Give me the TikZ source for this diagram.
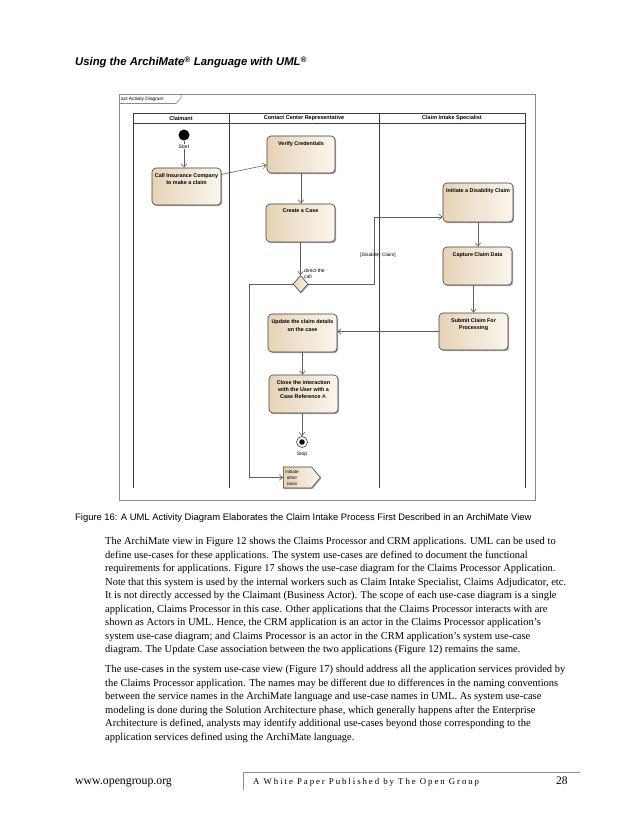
\documentclass[tikz,border=0pt]{standalone}
\usepackage{fontspec}
\setmainfont{Liberation Serif}
\setsansfont{Liberation Sans}
\newfontfamily\diafont{Liberation Sans}
\usetikzlibrary{arrows.meta,shadows,shapes.geometric,shapes.symbols}
\definecolor{boxL}{RGB}{230,211,182}
\definecolor{boxR}{RGB}{251,246,238}
\definecolor{boxline}{RGB}{70,62,55}
\definecolor{lineg}{RGB}{95,95,95}
\definecolor{frameg}{RGB}{140,140,140}
\definecolor{laneg}{RGB}{60,60,60}
\tikzset{
  actbox/.style={draw=boxline, line width=0.6pt, rounded corners=4pt, left color=boxL, right color=boxR,
    minimum width=69pt, minimum height=38pt, inner sep=0pt,
    drop shadow={shadow xshift=1.2pt, shadow yshift=-1.2pt, opacity=0.35, fill=black}},
  acttext/.style={font=\diafont\bfseries\fontsize{5.4}{7.4}\selectfont, align=center, inner sep=0pt, anchor=north},
  smalltext/.style={font=\diafont\fontsize{5.0}{6.2}\selectfont, inner sep=0.4pt},
  lanehead/.style={font=\diafont\bfseries\fontsize{5.5}{6}\selectfont, inner sep=0pt},
  conn/.style={draw=lineg, line width=0.6pt, -{Straight Barb[length=3.5pt,width=5.5pt]}},
  laneline/.style={draw=laneg, line width=0.7pt},
  bodyline/.style={font=\fontsize{10.5}{13}\selectfont, anchor=base west, inner sep=0pt},
}
\begin{document}
\begin{tikzpicture}[x=1pt,y=-1pt]
\useasboundingbox[fill=white] (0,0) rectangle (638,826);

% header
\node[anchor=base west, font=\sffamily\bfseries\itshape\fontsize{11.3}{13}\selectfont, inner sep=0pt] (hdr) at (75,66)
  {Using the ArchiMate\textsuperscript{®} Language with UML\textsuperscript{®}};

% diagram frame
\draw[frameg, line width=0.8pt] (119,94) rectangle (535,500);
\draw[frameg, line width=0.6pt] (119,103.5) -- (176,103.5) -- (181,98) -- (181,94);
\node[anchor=west, font=\diafont\fontsize{4.8}{5}\selectfont, inner sep=0pt] (acttab) at (121,99) {act Activity Diagram};

% swimlanes
\draw[laneline] (133,488) -- (133,113) -- (525,113) -- (525,488);
\draw[laneline] (133,123.5) -- (525,123.5);
\draw[laneline] (229,113) -- (229,488);
\draw[laneline] (379,113) -- (379,488);
\node[lanehead] (lh1) at (181,118.5) {Claimant};
\node[lanehead] (lh2) at (304,118.5) {Contact Center Representative};
\node[lanehead] (lh3) at (452,118.5) {Claim Intake Specialist};

% activity boxes
\node[actbox, minimum height=37pt] (call) at (186.5,186.5) {};
\node[acttext] (callT) at (186.5,173) {Call Insurance Company\\to make a claim};
\node[actbox, minimum width=68pt, minimum height=37pt] (verify) at (301,154.5) {};
\node[acttext] (verifyT) at (301,141) {Verify Credentials};
\node[actbox] (create) at (300.5,223) {};
\node[acttext] (createT) at (300.5,209) {Create a Case};
\node[actbox, minimum width=70pt, minimum height=39pt] (initiate) at (478,202.5) {};
\node[acttext] (initiateT) at (478,188) {Initiate a Disability Claim};
\node[actbox] (capture) at (477.5,266) {};
\node[acttext] (captureT) at (477.5,252.5) {Capture Claim Data};
\node[actbox, minimum height=37pt] (submit) at (473.5,331.5) {};
\node[acttext] (submitT) at (473.5,318) {Submit Claim For\\Processing};
\node[actbox] (update) at (302.5,333) {};
\node[acttext] (updateT) at (302.5,319.5) {Update the claim details\\on the case};
\node[actbox] (close) at (303.5,394) {};
\node[acttext] (closeT) at (303.5,380) {Close the interaction\\with the User with a\\Case Reference \#.};

% start / stop
\node[circle, fill=black, minimum size=11pt, inner sep=0pt] (start) at (184,135) {};
\draw[conn] (start) -- (start |- call.north);
\node[smalltext, fill=white] (startL) at (184,146.5) {Start};

\node[circle, draw=boxline, fill=white, line width=0.6pt, minimum size=11pt, inner sep=0pt] (stop) at (302,442) {};
\node[circle, fill=black, minimum size=5.5pt, inner sep=0pt] (stopin) at (stop) {};
\node[smalltext] (stopL) at (302,454) {Stop};

% decision
\node[diamond, draw=boxline, line width=0.6pt, left color=boxL, right color=boxR, minimum width=15pt, minimum height=17pt, inner sep=0pt,
  drop shadow={shadow xshift=1pt, shadow yshift=-1pt, opacity=0.3, fill=black}] (dia) at (300.5,284) {};
\node[smalltext, anchor=west, align=left, inner sep=0pt] (dirL) at (304,273.5) {direct the\\call};

% signal
\node[signal, signal to=east, signal pointer angle=100, draw=boxline, line width=0.6pt, left color=boxL, right color=boxR,
  minimum width=37pt, minimum height=21pt, inner sep=0pt,
  drop shadow={shadow xshift=1pt, shadow yshift=-1pt, opacity=0.3, fill=black}] (sig) at (297.5,477.5) {};
\node[font=\diafont\fontsize{4.5}{6}\selectfont, align=center, inner sep=0pt] (sigT) at (292,477.5) {Initiate\\other\\claim};

% connectors
\draw[conn] ([yshift=12pt]call.east) -- ([yshift=-10.5pt]verify.west);
\draw[conn] (verify.south) -- (verify.south |- create.north);
\draw[conn] (create.south) -- (dia.north);
\coordinate (dwest) at (249,284);
\draw[conn] (dia.west) -- (dwest) |- (sig.west);
\coordinate (deast) at (374,284);
\coordinate (dup) at (374,217);
\draw[conn] (dia.east) -- (deast) -- (dup) -- (dup -| initiate.west);
\node[smalltext, font=\diafont\fontsize{4.8}{5}\selectfont] (dlab) at (378,255) {[Disability Claim]};
\draw[conn] (initiate.south) -- (initiate.south |- capture.north);
\draw[conn] (capture.south -| submit.north) -- (submit.north);
\draw[conn] (submit.west) -- (submit.west -| update.east);
\draw[conn] (update.south) -- (update.south |- close.north);
\draw[conn] (close.south -| stop.north) -- (stop.north);

% caption
\node[anchor=base west, font=\sffamily\fontsize{9.4}{11}\selectfont, inner sep=0pt] (cap) at (75,520)
  {Figure 16: A UML Activity Diagram Elaborates the Claim Intake Process First Described in an ArchiMate View};

% body text
\node[bodyline] (p1a) at (105,544.5) {The ArchiMate view in Figure 12 shows the Claims Processor and CRM applications. UML can be used to};
\node[bodyline] (p1b) at (105,558) {define use-cases for these applications. The system use-cases are defined to document the functional};
\node[bodyline] (p1c) at (105,571.5) {requirements for applications. Figure 17 shows the use-case diagram for the Claims Processor Application.};
\node[bodyline] (p1d) at (105,585) {Note that this system is used by the internal workers such as Claim Intake Specialist, Claims Adjudicator, etc.};
\node[bodyline] (p1e) at (105,598.5) {It is not directly accessed by the Claimant (Business Actor). The scope of each use-case diagram is a single};
\node[bodyline] (p1f) at (105,612) {application, Claims Processor in this case. Other applications that the Claims Processor interacts with are};
\node[bodyline] (p1g) at (105,625.5) {shown as Actors in UML. Hence, the CRM application is an actor in the Claims Processor application's};
\node[bodyline] (p1h) at (105,639) {system use-case diagram; and Claims Processor is an actor in the CRM application's system use-case};
\node[bodyline] (p1i) at (105,652.5) {diagram. The Update Case association between the two applications (Figure 12) remains the same.};

\node[bodyline] (p2a) at (105,672.5) {The use-cases in the system use-case view (Figure 17) should address all the application services provided by};
\node[bodyline] (p2b) at (105,686) {the Claims Processor application. The names may be different due to differences in the naming conventions};
\node[bodyline] (p2c) at (105,699.5) {between the service names in the ArchiMate language and use-case names in UML. As system use-case};
\node[bodyline] (p2d) at (105,713) {modeling is done during the Solution Architecture phase, which generally happens after the Enterprise};
\node[bodyline] (p2e) at (105,726.5) {Architecture is defined, analysts may identify additional use-cases beyond those corresponding to the};
\node[bodyline] (p2f) at (105,740) {application services defined using the ArchiMate language.};

% footer
\node[anchor=base west, font=\fontsize{11.8}{13}\selectfont, inner sep=0pt] (www) at (75,784) {www.opengroup.org};
\draw[frameg, line width=1pt] (243,790) -- (243,772) -- (580,772);
\node[anchor=base west, font=\addfontfeatures{LetterSpace=22}\fontsize{8.8}{10}\selectfont, inner sep=0pt] (wp) at (253,784) {A White Paper Published by The Open Group};
\node[anchor=base west, font=\fontsize{11.5}{13}\selectfont, inner sep=0pt] (pg) at (556,784) {28};
\end{tikzpicture}
\end{document}
